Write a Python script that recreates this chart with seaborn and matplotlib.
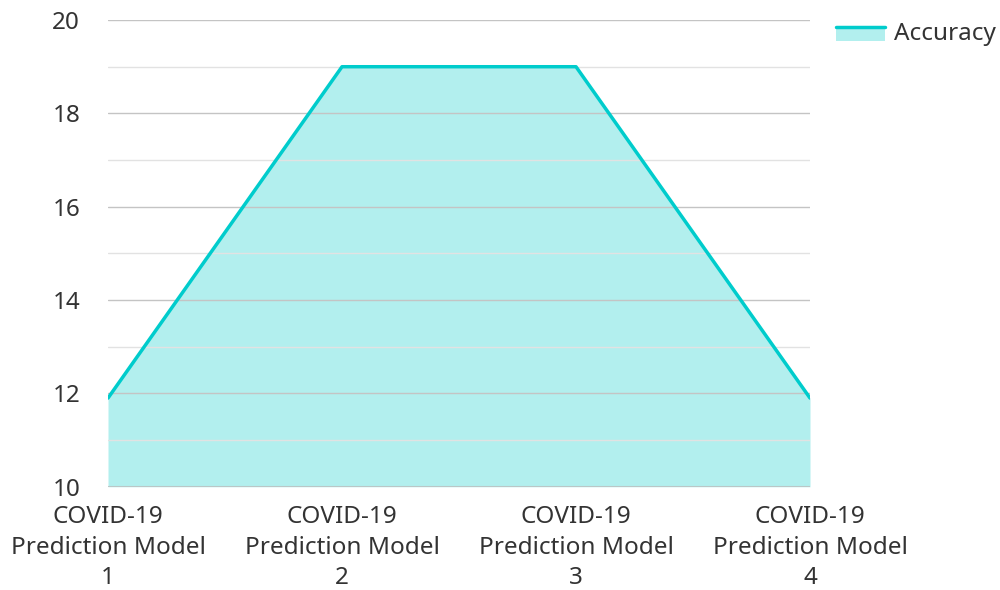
import pandas as pd
import matplotlib
matplotlib.use("Agg")
import matplotlib.pyplot as plt
import seaborn as sns
from matplotlib.lines import Line2D
from matplotlib.patches import Rectangle
from matplotlib.legend_handler import HandlerBase

# data
models = ["COVID-19\nPrediction Model\n1", "COVID-19\nPrediction Model\n2",
          "COVID-19\nPrediction Model\n3", "COVID-19\nPrediction Model\n4"]
accuracy = [11.9, 19, 19, 11.9]
y_ticks = [10, 12, 14, 16, 18, 20]

df = pd.DataFrame({"pos": range(len(models)), "accuracy": accuracy})

sns.set_style("white")
plt.rcParams["font.family"] = ["Noto Sans", "DejaVu Sans"]

line_color = "#00cccc"
fill_color = "#b2efee"
fs = 17.5


# legend key: line on top of a filled band, like an area series
class AreaHandler(HandlerBase):
    def create_artists(self, legend, orig_handle, xdescent, ydescent, width, height, fontsize, trans):
        top = height * 0.75
        rect = Rectangle((-xdescent, -ydescent + top - height * 0.8), width, height * 0.8,
                         facecolor=fill_color, edgecolor="none", transform=trans)
        ln = Line2D([-xdescent, -xdescent + width], [-ydescent + top, -ydescent + top],
                    color=line_color, linewidth=2.5, transform=trans)
        return [rect, ln]


fig = plt.figure(figsize=(10, 5.9), dpi=100)
ax = fig.add_axes([0.108, 0.175, 0.702, 0.791])

ax.fill_between(df["pos"], 10, df["accuracy"], color=fill_color, lw=0, zorder=1)
sns.lineplot(data=df, x="pos", y="accuracy", color=line_color, linewidth=2.5, ax=ax, zorder=3)

ax.set_xlim(0, len(models) - 1)
ax.set_ylim(10, 20)
ax.set_yticks(y_ticks)
ax.set_yticks([11, 13, 15, 17, 19], minor=True)
ax.set_xticks(df["pos"])
ax.set_xticklabels(models, linespacing=1.38)
ax.grid(axis="y", which="major", color="#c4c4c4", linewidth=1, zorder=2)
ax.grid(axis="y", which="minor", color="#e2e2e2", linewidth=1, zorder=2)
ax.set_axisbelow(False)
for s in ax.spines.values():
    s.set_visible(False)
ax.axhline(10, color="#b8c8c8", linewidth=1.5, zorder=2)
ax.tick_params(axis="both", which="both", length=0, labelsize=fs, colors="#333333")
ax.tick_params(axis="y", pad=20)
ax.tick_params(axis="x", pad=13)
ax.set_xlabel("")
ax.set_ylabel("")

leg = fig.legend([object()], ["Accuracy"], loc="upper left", bbox_to_anchor=(0.836, 0.963),
                 frameon=False, fontsize=fs, handlelength=2.0, handletextpad=0.4,
                 borderpad=0, borderaxespad=0,
                 handler_map={object: AreaHandler()})
for t in leg.get_texts():
    t.set_color("#333333")

fig.savefig("out.png", dpi=100)
